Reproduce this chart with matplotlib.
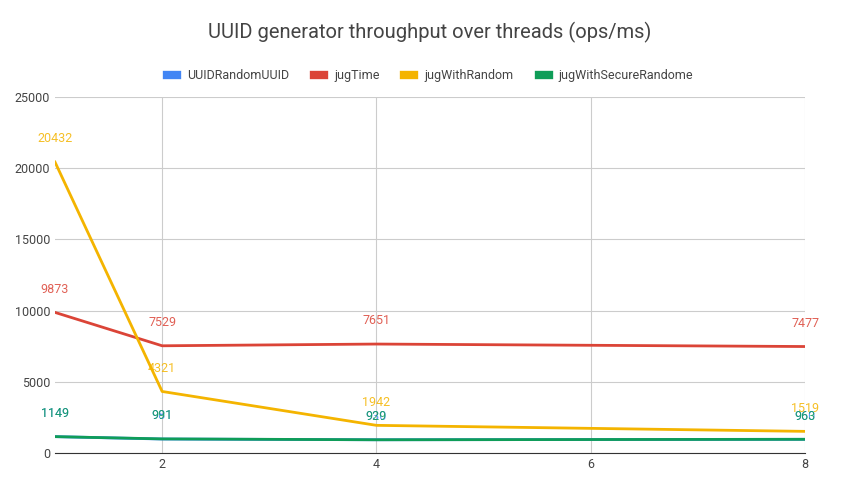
import matplotlib.pyplot as plt

threads = [1, 2, 4, 8]
uuid_random = [1149, 981, 930, 960]
jug_time = [9873, 7529, 7651, 7477]
jug_random = [20432, 4321, 1942, 1519]
jug_secure = [1149, 991, 929, 963]

series = [
    ("UUIDRandomUUID", uuid_random, "#4285f4"),
    ("jugTime", jug_time, "#db4437"),
    ("jugWithRandom", jug_random, "#f4b400"),
    ("jugWithSecureRandome", jug_secure, "#0f9d58"),
]

plt.rcParams['font.family'] = ['Roboto', 'DejaVu Sans']
fig = plt.figure(figsize=(8.52, 4.95), dpi=100)
ax = fig.add_axes([55 / 852, 1 - 453 / 495, 750 / 852, 356 / 495])

for name, vals, color in series:
    ax.plot(threads, vals, color=color, lw=2, label=name)
    for x, v in zip(threads, vals):
        # the blue labels sit under the green ones, as in the source chart
        ax.annotate(str(v), (x, v), xytext=(0, 12), textcoords="offset points",
                    ha="center", va="bottom", color=color, fontsize=9, alpha=0.85)

ax.set_xlim(1, 8)
ax.set_ylim(0, 25000)
ax.set_xticks([2, 4, 6, 8])
ax.set_yticks(range(0, 25001, 5000))
ax.grid(True, color="#cccccc", lw=0.8)
ax.set_axisbelow(True)
for s in ["top", "right", "left"]:
    ax.spines[s].set_visible(False)
ax.spines["bottom"].set_color("#333333")
ax.tick_params(length=0, colors="#444444", labelsize=9)
ax.set_title("UUID generator throughput over threads (ops/ms)", fontsize=14.5,
             color="#444444", pad=42)
ax.legend(loc="lower center", bbox_to_anchor=(0.5, 1.01), ncol=4, frameon=False,
          fontsize=9, handlelength=0.8, handleheight=0.8, labelcolor="#444444")
for h in ax.get_legend().get_lines():
    h.set_linewidth(6)

fig.savefig("out.png", dpi=100)
